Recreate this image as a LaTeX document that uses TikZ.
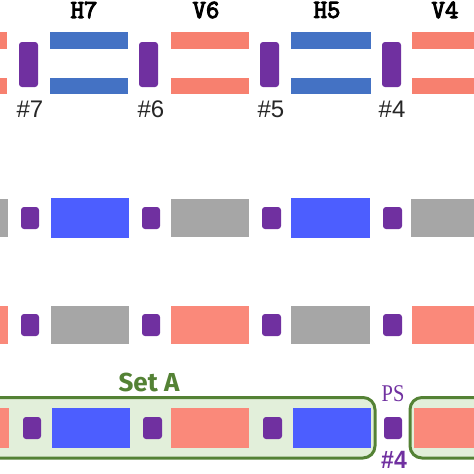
\documentclass[tikz,border=0pt]{standalone}
\usepackage{fontspec}
\setmainfont{Liberation Sans}
\newfontfamily\monobold[FakeBold=4]{Latin Modern Mono}
\newfontfamily\labsans{Liberation Sans}
\newfontfamily\setfont{Fira Sans}
\newfontfamily\psfont{Liberation Serif}
\definecolor{topred}{HTML}{F7806F}
\definecolor{lowred}{HTML}{FA897A}
\definecolor{topblue}{HTML}{4472C4}
\definecolor{brblue}{HTML}{4C5EFF}
\definecolor{midgray}{HTML}{A6A6A6}
\definecolor{pur}{HTML}{7030A0}
\definecolor{grn}{HTML}{548235}
\definecolor{grnfill}{HTML}{E2EFDA}
\tikzset{
  blk/.style={inner sep=0pt, outer sep=0pt, draw=none},
  tred/.style={blk, fill=topred},
  lred/.style={blk, fill=lowred},
  tblue/.style={blk, fill=topblue},
  bblue/.style={blk, fill=brblue},
  gry/.style={blk, fill=midgray},
  pill/.style={blk, fill=pur, rounded corners=3pt},
  setbox/.style={inner sep=0pt, outer sep=0pt, draw=grn, line width=3pt, fill=grnfill, rounded corners=12pt},
  toplab/.style={font=\monobold\fontsize{26}{26}\selectfont, inner sep=0pt},
  numlab/.style={font=\labsans\fontsize{24}{24}\selectfont, text=black!85, inner sep=0pt},
}
\newcommand\bx[6]{\node[#2, minimum width={(#5)-(#3)}, minimum height={(#6)-(#4)}] (#1) at ({((#3)+(#5))/2},{((#4)+(#6))/2}) {};}
\begin{document}
\begin{tikzpicture}[x=1pt,y=-1pt]
\useasboundingbox (0,0) rectangle (474,474);
\clip (0,0) rectangle (474,474);
% ---------- row 1 ----------
\bx{r1a}{tred}{-71}{32}{7}{49}
\bx{r1b}{tred}{-71}{78}{7}{94}
\bx{h7a}{tblue}{50}{32}{128}{49}
\bx{h7b}{tblue}{50}{78}{128}{94}
\bx{v6a}{tred}{171}{32}{249}{49}
\bx{v6b}{tred}{171}{78}{249}{94}
\bx{h5a}{tblue}{291}{32}{371}{49}
\bx{h5b}{tblue}{291}{78}{371}{94}
\bx{v4a}{tred}{412}{32}{490}{49}
\bx{v4b}{tred}{412}{78}{490}{94}
\bx{p7}{pill}{19}{42}{38}{87}
\bx{p6}{pill}{139}{42}{158}{87}
\bx{p5}{pill}{260}{42}{279}{87}
\bx{p4}{pill}{382}{42}{401}{87}
\node[toplab] (lh7) at (84,10) {H7};
\node[toplab] (lv6) at (206,10) {V6};
\node[toplab] (lh5) at (327,10) {H5};
\node[toplab] (lv4) at (445,10) {V4};
\node[numlab] (n7) at (30,109) {\#7};
\node[numlab] (n6) at (151,109) {\#6};
\node[numlab] (n5) at (271,109) {\#5};
\node[numlab] (n4) at (392,109) {\#4};
% ---------- row 2 ----------
\bx{g2a}{gry}{-71}{199}{8}{237}
\bx{b2a}{bblue}{51}{198}{129}{238}
\bx{g2b}{gry}{171}{199}{249}{237}
\bx{b2b}{bblue}{291}{198}{370}{238}
\bx{g2c}{gry}{411}{199}{490}{237}
\bx{q2a}{pill}{21}{207}{39}{229}
\bx{q2b}{pill}{142}{207}{160}{229}
\bx{q2c}{pill}{262}{207}{281}{229}
\bx{q2d}{pill}{383}{207}{402}{229}
% ---------- row 3 ----------
\bx{r3a}{lred}{-71}{306}{8}{344}
\bx{g3a}{gry}{51}{306}{129}{344}
\bx{r3b}{lred}{171}{306}{249}{344}
\bx{g3b}{gry}{291}{306}{370}{344}
\bx{r3c}{lred}{412}{306}{490}{344}
\bx{q3a}{pill}{21}{314}{39}{336}
\bx{q3b}{pill}{142}{314}{160}{336}
\bx{q3c}{pill}{262}{314}{281}{336}
\bx{q3d}{pill}{383}{314}{402}{336}
% ---------- row 4 ----------
\bx{setA}{setbox}{-30}{397.5}{375}{458}
\bx{setB}{setbox}{410}{397.5}{520}{458}
\bx{r4a}{lred}{-71}{408}{9}{448}
\bx{b4a}{bblue}{52}{408}{130}{448}
\bx{r4b}{lred}{171}{408}{249}{448}
\bx{b4b}{bblue}{293}{408}{371}{448}
\bx{r4c}{lred}{414}{408}{494}{448}
\bx{q4a}{pill}{23}{417}{41}{439}
\bx{q4b}{pill}{143}{417}{162}{439}
\bx{q4c}{pill}{263}{417}{282}{439}
\bx{q4d}{pill}{384}{417}{402}{439}
\node[font=\setfont\bfseries\fontsize{26}{26}\selectfont, text=grn, inner sep=0pt] (lsetA) at (149,382.5) {Set A};
\node[font=\psfont\fontsize{24}{24}\selectfont, text=pur, inner sep=0pt, xscale=0.85] (lps) at (393,393.5) {PS};
\node[font=\labsans\bfseries\fontsize{25}{25}\selectfont, text=pur, inner sep=0pt, xscale=0.92] (lps4) at (394,460) {\#4};
\end{tikzpicture}
\end{document}
